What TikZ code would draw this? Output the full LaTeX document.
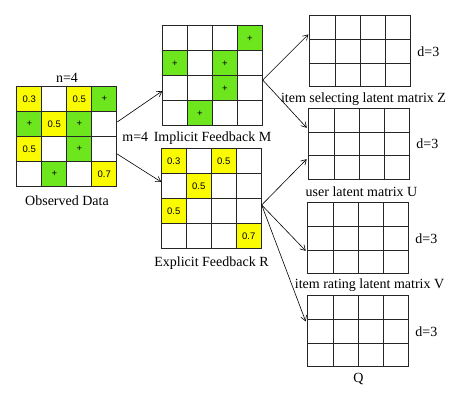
\documentclass[tikz,border=0pt]{standalone}
\usepackage{fontspec}
\setmainfont{Liberation Serif}
\setsansfont{Liberation Sans}
\usepackage{xcolor}
\usetikzlibrary{arrows.meta, positioning, calc}
\definecolor{cellyellow}{RGB}{250,250,0}
\definecolor{cellgreen}{RGB}{110,230,30}

\begin{document}
\begin{tikzpicture}[x=1pt, y=1pt,
    font=\rmfamily\fontsize{14}{16}\selectfont,
    mat/.style={minimum width=100pt, minimum height=100pt, inner sep=0pt},
    latmat/.style={minimum width=101pt, minimum height=71pt, inner sep=0pt},
    cellbox/.style={draw=black!85, line width=0.8pt, minimum size=25pt, inner sep=0pt,
        font=\sffamily\fontsize{9.5}{10}\selectfont},
    latcell/.style={draw=black!85, line width=0.8pt, minimum width=25.25pt,
        minimum height=23.67pt, inner sep=0pt},
    flow/.style={-{Straight Barb[length=5pt, width=6pt]}, line width=0.6pt},
    lbl/.style={inner sep=1pt}]
    \useasboundingbox (0,0) rectangle (474,405);

    % Matrix frames
    \node[mat] (obs) at (67,268.5) {};
    \node[mat] (impl) at (212.5,329) {};
    \node[mat] (expl) at (211.5,206.5) {};
    \node[latmat] (latZ) at (360.5,353.5) {};
    \node[latmat] (latU) at (359.5,261) {};
    \node[latmat] (latV) at (358.5,166.5) {};
    \node[latmat] (latQ) at (358.5,73.5) {};

    % 4x4 cells
    \foreach \m in {obs,impl,expl}
        \foreach \r in {0,...,3}
            \foreach \c in {0,...,3}
                \node[cellbox] (\m-\r-\c) at ($(\m.north west)+({12.5+25*\c},{-12.5-25*\r})$) {};

    % Filled cells
    \foreach \m/\r/\c/\col/\txt in {
        obs/0/0/cellyellow/0.3, obs/0/2/cellyellow/0.5, obs/0/3/cellgreen/+,
        obs/1/0/cellgreen/+, obs/1/1/cellyellow/0.5, obs/1/2/cellgreen/+,
        obs/2/0/cellyellow/0.5, obs/2/2/cellgreen/+,
        obs/3/1/cellgreen/+, obs/3/3/cellyellow/0.7,
        impl/0/3/cellgreen/+, impl/1/0/cellgreen/+, impl/1/2/cellgreen/+,
        impl/2/2/cellgreen/+, impl/3/1/cellgreen/+,
        expl/0/0/cellyellow/0.3, expl/0/2/cellyellow/0.5, expl/1/1/cellyellow/0.5,
        expl/2/0/cellyellow/0.5, expl/3/3/cellyellow/0.7}
        \node[cellbox, fill=\col] (\m-\r-\c-v) at (\m-\r-\c) {\txt};

    % Latent matrices, d x 4
    \foreach \m in {latZ,latU,latV,latQ}
        \foreach \r in {0,1,2}
            \foreach \c in {0,...,3}
                \node[latcell] (\m-\r-\c) at ($(\m.north west)+({12.625+25.25*\c},{-11.833-23.667*\r})$) {};

    % Labels
    \node[lbl, above=3pt of obs] (nlab) {n=4};
    \node[lbl, right=4pt of obs] (mlab) {m=4};
    \node[lbl, below=8pt of obs] (obslab) {Observed Data};
    \node[lbl, below=4pt of impl] (impllab) {Implicit Feedback M};
    \node[lbl, below=7pt of expl] (expllab) {Explicit Feedback R};
    \node[lbl, below=4pt of latZ, xshift=3pt] (zlab) {item selecting latent matrix Z};
    \node[lbl, below=6pt of latU, xshift=2pt] (ulab) {user latent matrix U};
    \node[lbl, below=3pt of latV, xshift=11pt] (vlab) {item rating latent matrix V};
    \node[lbl, below=5pt of latQ] (qlab) {Q};
    \foreach \m in {latZ,latU,latV,latQ}
        \node[lbl, right=5pt of \m] (\m-d) {d=3};

    % Arrows
    \draw[flow] ([yshift=14.5pt]obs.east) -- ([yshift=-15pt]impl.west);
    \draw[flow] ([yshift=-17.5pt]obs.east) -- ([yshift=16.5pt]expl.west);
    \draw[flow, shorten >=2pt] ([yshift=-4pt]impl.east) -- ([yshift=18.5pt]latZ.west);
    \draw[flow, shorten >=3pt] ([yshift=-4pt]impl.east) -- ([yshift=14pt]latU.west);
    \draw[flow, shorten >=3pt] ([yshift=-6.5pt]expl.east) -- ([yshift=-13pt]latU.west);
    \draw[flow, shorten >=3pt] ([yshift=-6.5pt]expl.east) -- ([yshift=-14.5pt]latV.west);
    \draw[flow, shorten >=6pt] ([yshift=-6.5pt]expl.east) -- ([yshift=4.5pt]latQ.west);
\end{tikzpicture}
\end{document}
